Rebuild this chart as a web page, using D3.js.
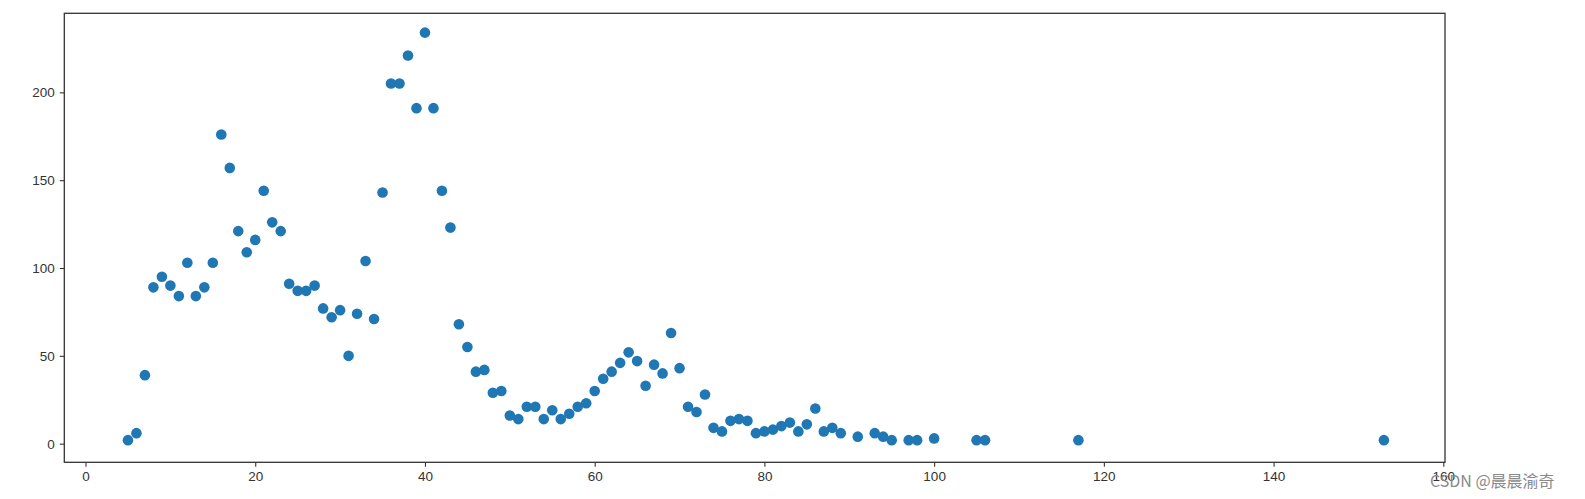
<!DOCTYPE html>
<html>
<head>
<meta charset="utf-8">
<script src="https://cdn.jsdelivr.net/npm/d3@7"></script>
<style>
  html, body { margin: 0; padding: 0; background: #fff; }
  svg { display: block; }
</style>
</head>
<body>
<svg id="chart" width="1585" height="499"></svg>
<script>
const xValues = [5,6,7,8,9,10,11,12,13,14,15,16,17,18,19,20,21,22,23,24,25,26,27,28,29,30,31,32,33,34,35,36,37,38,39,40,41,42,43,44,45,46,47,48,49,50,51,52,53,54,55,56,57,58,59,60,61,62,63,64,65,66,67,68,69,70,71,72,73,74,75,76,77,78,79,80,81,82,83,84,85,86,87,88,89,91,93,94,95,97,98,100,105,106,117,153];
const yValues = [2,6,39,89,95,90,84,103,84,89,103,176,157,121,109,116,144,126,121,91,87,87,90,77,72,76,50,74,104,71,143,205,205,221,191,234,191,144,123,68,55,41,42,29,30,16,14,21,21,14,19,14,17,21,23,30,37,41,46,52,47,33,45,40,63,43,21,18,28,9,7,13,14,13,6,7,8,10,12,7,11,20,7,9,6,4,6,4,2,2,2,3,2,2,2,2];
const xTicks = [0,20,40,60,80,100,120,140,160];
const yTicks = [0,50,100,150,200];
const watermark = "CSDN @晨晨渝奇";

(function () {
const svg = d3.select("#chart");
const pL = 64.3, pR = 1445, pT = 13.3, pB = 462.3;

const x = d3.scaleLinear().domain([-2.5, 160.2]).range([pL, pR]);
const y = d3.scaleLinear().domain([-10.6, 245]).range([pB, pT]);

const font = "'Liberation Sans', Arial, sans-serif";

// points
svg.append("g")
  .selectAll("circle")
  .data(xValues.map((v, i) => [v, yValues[i]]))
  .join("circle")
  .attr("cx", d => x(d[0]))
  .attr("cy", d => y(d[1]))
  .attr("r", 5.3)
  .attr("fill", "#1f77b4");

// axes
const xAxis = svg.append("g")
  .attr("transform", `translate(0,${pB})`)
  .call(d3.axisBottom(x).tickValues(xTicks).tickSize(4.5).tickPadding(5).tickFormat(d3.format("d")));
const yAxis = svg.append("g")
  .attr("transform", `translate(${pL},0)`)
  .call(d3.axisLeft(y).tickValues(yTicks).tickSize(4.5).tickPadding(5).tickFormat(d3.format("d")));

[xAxis, yAxis].forEach(g => {
  g.select(".domain").remove();
  g.selectAll(".tick line").attr("stroke", "#333").attr("stroke-width", 1.1);
  g.selectAll(".tick text")
    .attr("fill", "#333")
    .style("font-family", font)
    .style("font-size", "13.5px");
});

// frame
svg.append("rect")
  .attr("x", pL).attr("y", pT)
  .attr("width", pR - pL).attr("height", pB - pT)
  .attr("fill", "none")
  .attr("stroke", "#333")
  .attr("stroke-width", 1.3);

// watermark
svg.append("text")
  .attr("x", 1430).attr("y", 487)
  .attr("fill", "#8a8a8a")
  .style("font-family", "'Noto Sans CJK SC', 'Noto Sans', sans-serif")
  .style("font-size", "16px")
  .text(watermark);
})();
</script>
</body>
</html>
